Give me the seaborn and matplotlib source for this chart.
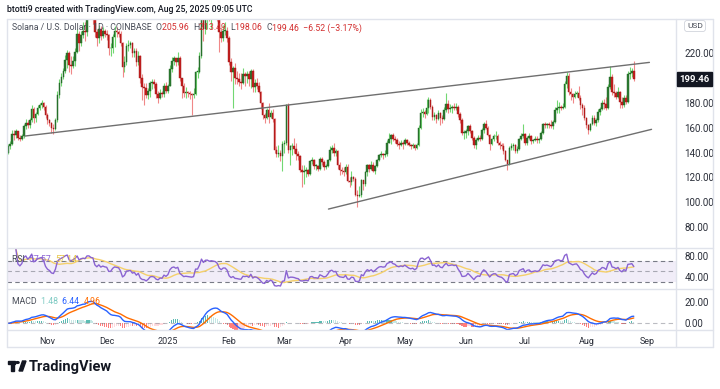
import numpy as np
import pandas as pd
import seaborn as sns
import matplotlib
matplotlib.use("Agg")
import matplotlib.pyplot as plt
import matplotlib.dates as mdates
from matplotlib.lines import Line2D
from matplotlib.patches import Rectangle, Polygon, Circle

sns.set_style("white")
plt.rcParams['font.family'] = ['Roboto', 'DejaVu Sans']

# ---- data (SOL/USD daily, Coinbase) ----
start_date = "2024-10-12"
first_open = 140.0

closes = [
    # Oct 12-31
    145, 147, 155, 154, 157, 152, 151, 153, 161, 164, 162, 166, 175, 168, 171, 176, 178, 180, 177, 170,
    # Nov
    166, 164, 160, 159, 166, 186, 196, 201, 206, 215, 220, 211, 210, 214, 221, 236, 228, 235, 238, 237,
    256, 256, 253, 252, 237, 232, 240, 234, 238, 236,
    # Dec
    235, 224, 224, 233, 238, 237, 236, 228, 209, 213, 226, 227, 228, 220, 222, 213, 218, 200, 193, 192,
    186, 190, 196, 197, 195, 187, 184, 188, 187, 194, 190,
    # Jan
    194, 207, 214, 216, 213, 216, 200, 194, 188, 189, 188, 187, 186, 187, 205, 205, 218, 249, 240, 254,
    255, 252, 255, 254, 253, 249, 237, 232, 238, 238, 232,
    # Feb
    213, 205, 208, 200, 199, 197, 196, 203, 202, 203, 199, 206, 193, 196, 194, 189, 180, 170, 168, 174,
    169, 172, 167, 142, 139, 140, 137, 147,
    # Mar
    148, 178, 142, 145, 145, 143, 139, 137, 126, 124, 125, 126, 123, 133, 134, 129, 129, 127, 135, 132,
    128, 129, 134, 142, 144, 140, 141, 130, 126, 125, 124,
    # Apr
    128, 117, 116, 120, 119, 106, 105, 106, 118, 115, 124, 130, 127, 130, 125, 129, 134, 138, 139, 138,
    139, 148, 151, 154, 151, 150, 147, 146, 148, 147,
    # May
    150, 148, 146, 145, 146, 144, 146, 160, 172, 173, 171, 176, 182, 177, 169, 170, 167, 172, 168, 167,
    174, 179, 175, 176, 177, 176, 177, 171, 166, 156, 156,
    # Jun
    157, 161, 157, 152, 146, 150, 152, 151, 158, 163, 160, 154, 147, 151, 153, 153, 148, 146, 145, 141,
    134, 131, 144, 145, 146, 141, 143, 151, 153, 155,
    # Jul
    148, 152, 153, 149, 150, 151, 150, 151, 156, 163, 162, 163, 162, 161, 165, 174, 176, 177, 176, 177,
    195, 202, 189, 187, 185, 187, 188, 184, 178, 176, 168,
    # Aug 1-25
    162, 158, 163, 168, 164, 166, 173, 175, 180, 179, 176, 193, 201, 189, 188, 185, 189, 181, 178, 184,
    181, 203, 204, 205.96, 199.46,
]

highs = [
    147, 149, 158, 158, 159, 157, 154, 155, 163, 167, 166, 168, 178, 177, 173, 178, 180, 182, 181, 178,
    172, 167, 165, 163, 168, 190, 199, 204, 208, 219, 223, 222, 218, 218, 224, 240, 238, 238, 245, 245,
    258, 264, 258, 256, 253, 240, 243, 242, 241, 240,
    239, 236, 228, 236, 242, 241, 239, 238, 229, 218, 228, 231, 230, 229, 224, 224, 222, 219, 203, 196,
    196, 192, 198, 199, 199, 197, 190, 191, 190, 196, 197,
    195, 211, 217, 218, 216, 221, 218, 200, 196, 193, 190, 190, 188, 192, 206, 209, 221, 255, 295, 270,
    262, 258, 260, 262, 257, 256, 250, 241, 243, 245, 241,
    234, 216, 210, 212, 206, 204, 204, 208, 205, 206, 206, 207, 207, 199, 200, 197, 190, 181, 172, 176,
    180, 174, 175, 168, 145, 146, 142, 149,
    150, 179, 180, 146, 148, 152, 148, 141, 138, 130, 130, 128, 127, 134, 136, 135, 131, 130, 136, 136,
    134, 131, 135, 145, 146, 148, 143, 142, 132, 128, 128,
    131, 131, 120, 125, 121, 120, 110, 113, 119, 118, 125, 131, 131, 133, 132, 130, 135, 139, 141, 140,
    142, 150, 156, 155, 156, 153, 152, 149, 150, 149,
    152, 151, 149, 147, 148, 147, 148, 162, 175, 176, 174, 183, 185, 184, 178, 173, 171, 174, 173, 170,
    177, 188, 182, 179, 178, 180, 180, 178, 173, 168, 158,
    159, 162, 163, 158, 153, 152, 154, 154, 160, 165, 166, 161, 155, 152, 155, 157, 155, 149, 148, 148,
    142, 134, 145, 148, 148, 147, 145, 152, 156, 163,
    156, 153, 156, 154, 151, 153, 153, 152, 157, 164, 165, 164, 165, 166, 166, 177, 182, 181, 178, 180,
    198, 205, 204, 192, 188, 190, 190, 194, 186, 180, 178,
    169, 163, 164, 170, 170, 168, 175, 177, 182, 183, 185, 195, 210, 203, 195, 190, 193, 190, 185, 186,
    186, 206, 209, 208, 213.49,
]

lows = [
    139, 143, 146, 150, 152, 150, 149, 150, 152, 159, 160, 160, 165, 164, 165, 170, 174, 176, 174, 168,
    163, 161, 156, 155, 158, 165, 184, 194, 199, 204, 208, 205, 203, 208, 210, 220, 222, 226, 232, 230,
    234, 250, 248, 244, 233, 226, 228, 231, 232, 233,
    231, 219, 218, 220, 225, 233, 233, 226, 201, 205, 211, 222, 224, 217, 217, 210, 211, 196, 182, 178,
    184, 183, 185, 191, 192, 184, 180, 183, 185, 185, 188,
    188, 194, 205, 211, 210, 211, 198, 184, 185, 184, 185, 183, 170, 184, 186, 200, 204, 216, 230, 236,
    240, 246, 240, 250, 248, 246, 221, 229, 230, 235, 229,
    211, 198, 176, 195, 195, 194, 191, 195, 194, 196, 194, 192, 189, 189, 191, 188, 175, 167, 164, 167,
    164, 168, 165, 140, 136, 136, 133, 125,
    140, 146, 140, 130, 138, 140, 134, 134, 124, 112, 115, 120, 121, 122, 131, 127, 126, 125, 126, 130,
    126, 127, 128, 133, 140, 137, 137, 127, 122, 123, 121,
    123, 116, 112, 114, 117, 105, 96, 104, 104, 110, 113, 121, 124, 126, 124, 123, 128, 133, 136, 135,
    136, 137, 148, 147, 149, 148, 145, 143, 145, 143,
    146, 146, 145, 143, 144, 142, 143, 145, 159, 169, 168, 170, 172, 175, 166, 166, 164, 166, 162, 164,
    166, 173, 172, 173, 172, 174, 174, 169, 164, 154, 151,
    152, 154, 156, 150, 144, 143, 149, 149, 150, 156, 159, 153, 142, 146, 149, 151, 146, 143, 143, 139,
    133, 126, 130, 142, 142, 140, 140, 142, 150, 152,
    146, 146, 151, 147, 148, 149, 148, 148, 150, 155, 160, 160, 160, 160, 159, 164, 172, 172, 174, 175,
    176, 192, 186, 182, 180, 184, 185, 182, 175, 170, 166,
    160, 155, 157, 162, 162, 161, 165, 170, 174, 175, 174, 175, 191, 186, 185, 183, 184, 176, 176, 177,
    179, 180, 199, 201, 198.06,
]

# hand-drawn channel lines (two anchor points each)
upper_line_dates = ["2024-10-20 14:00", "2025-09-01 22:00"]
upper_line_prices = [153.3, 212.7]
lower_line_dates = ["2025-03-23 08:00", "2025-09-03 00:00"]
lower_line_prices = [94.4, 158.7]

month_ticks = ["2024-11-01", "2024-12-01", "2025-01-01", "2025-02-01", "2025-03-01", "2025-04-01",
               "2025-05-01", "2025-06-01", "2025-07-01", "2025-08-01", "2025-09-01"]
month_labels = ["Nov", "Dec", "2025", "Feb", "Mar", "Apr", "May", "Jun", "Jul", "Aug", "Sep"]
price_ticks = [80, 100, 120, 140, 160, 180, 220]

# ---- indicators ----
df = pd.DataFrame({"close": closes, "high": highs, "low": lows},
                  index=pd.date_range(start_date, periods=len(closes), freq="D"))
df["open"] = [first_open] + closes[:-1]

delta = df["close"].diff()
gain = delta.clip(lower=0)
loss = -delta.clip(upper=0)
avg_gain = gain.ewm(alpha=1 / 14, adjust=True, min_periods=4).mean()
avg_loss = loss.ewm(alpha=1 / 14, adjust=True, min_periods=4).mean()
df["rsi"] = 100 - 100 / (1 + avg_gain / avg_loss)
df["rsi_ma"] = df["rsi"].rolling(14, min_periods=1).mean()
ema12 = df["close"].ewm(span=12, adjust=False).mean()
ema26 = df["close"].ewm(span=26, adjust=False).mean()
df["macd"] = ema12 - ema26
df["signal"] = df["macd"].ewm(span=9, adjust=False).mean()
df["hist"] = df["macd"] - df["signal"]

W, H = 720, 389


def box(x0, y0, x1, y1):
    return [x0 / W, 1 - y1 / H, (x1 - x0) / W, (y1 - y0) / H]


def fx(x):
    return x / W


def fy(y):
    return 1 - y / H


fig = plt.figure(figsize=(7.2, 3.89), dpi=100)
fig.patch.set_facecolor("white")

ax = fig.add_axes(box(7, 19, 676, 247))
ax_rsi = fig.add_axes(box(7, 249, 676, 288), sharex=ax)
ax_macd = fig.add_axes(box(7, 290, 676, 330), sharex=ax)

nov1 = mdates.date2num(pd.Timestamp("2024-11-01"))
xl = (nov1 + (7 - 47.5) / 1.974, nov1 + (676 - 47.5) / 1.974)

# candles
x = mdates.date2num(df.index)
o = df["open"].values
c = df["close"].values
up = c >= o
dn = ~up

ax.vlines(x[up], df["low"].values[up], df["high"].values[up], color="#72d872", lw=0.8, zorder=2)
ax.vlines(x[dn], df["low"].values[dn], df["high"].values[dn], color="#f08888", lw=0.8, zorder=2)
hgt = np.where(np.abs(c - o) < 0.6, 0.6, np.abs(c - o))
ax.bar(x[up], hgt[up], bottom=np.minimum(o, c)[up], width=0.8, color="#2d7d32",
       edgecolor="#1e5e22", linewidth=0.3, zorder=3)
ax.bar(x[dn], hgt[dn], bottom=np.minimum(o, c)[dn], width=0.8, color="#c62020",
       edgecolor="#9a1515", linewidth=0.3, zorder=3)

ax.plot(mdates.date2num(pd.to_datetime(upper_line_dates)), upper_line_prices, color="#6f6f6f", lw=1.0, zorder=4)
ax.plot(mdates.date2num(pd.to_datetime(lower_line_dates)), lower_line_prices, color="#6f6f6f", lw=1.0, zorder=4)

ax.set_ylim(63.8, 247.7)
ax.set_yticks(price_ticks)
ax.set_yticklabels([f"{v:.2f}" for v in price_ticks])

# RSI
ax_rsi.axhspan(30, 70, color="#7e57c2", alpha=0.1, lw=0)
for lvl, a in [(70, 1.0), (50, 0.6), (30, 1.0)]:
    ax_rsi.axhline(lvl, color="#787b86", lw=0.8, ls=(0, (4, 3)), alpha=a)
sns.lineplot(x=df.index, y=df["rsi_ma"], ax=ax_rsi, color="#f5d06a", lw=1.0)
sns.lineplot(x=df.index, y=df["rsi"], ax=ax_rsi, color="#8a63d2", lw=1.0)
ax_rsi.set_ylim(18.5, 92.8)
ax_rsi.set_yticks([40, 80])
ax_rsi.set_yticklabels(["40.00", "80.00"])

# MACD
ax_macd.axhline(0, color="#787b86", lw=0.8, ls=(0, (4, 3)), alpha=0.5)
hv = df["hist"].values
prev = np.r_[0, hv[:-1]]
hcol = np.where(hv >= 0, np.where(hv >= prev, "#26a69a", "#b2dfdb"),
                np.where(hv < prev, "#ff5252", "#ffcdd2"))
ax_macd.bar(x, hv, width=0.6, color=hcol, alpha=0.75, lw=0)
sns.lineplot(x=df.index, y=df["signal"], ax=ax_macd, color="#ff6d00", lw=1.0)
sns.lineplot(x=df.index, y=df["macd"], ax=ax_macd, color="#2962ff", lw=1.0)
ax_macd.set_ylim(-6.4, 31.7)
ax_macd.set_yticks([0, 20])
ax_macd.set_yticklabels(["0.00", "20.00"])

for a in (ax, ax_rsi, ax_macd):
    a.set_xlim(*xl)
    a.set_xlabel("")
    a.set_ylabel("")
    a.yaxis.tick_right()
    a.tick_params(axis="y", length=0, pad=6, labelsize=7, labelcolor="#2a2e39")
    a.tick_params(axis="x", length=0)
    for s in a.spines.values():
        s.set_visible(False)
    a.set_facecolor("none")

ax_macd.set_xticks(mdates.date2num(pd.to_datetime(month_ticks)))
ax_macd.set_xticklabels(month_labels)
ax_macd.tick_params(axis="x", labelsize=6.5, pad=5, labelcolor="#2a2e39")
plt.setp(ax.get_xticklabels(), visible=False)
plt.setp(ax_rsi.get_xticklabels(), visible=False)

# frame lines
grid_c = "#e0e3eb"
for yy in (19, 248, 289, 330, 347):
    fig.add_artist(Line2D([fx(7), fx(713)], [fy(yy), fy(yy)], color=grid_c, lw=1))
for xx in (7, 676, 713):
    fig.add_artist(Line2D([fx(xx), fx(xx)], [fy(19), fy(347)], color=grid_c, lw=1))

# texts
fig.text(fx(7), fy(10), "btotti9 created with TradingView.com, Aug 25, 2025 09:05 UTC",
         fontsize=6.3, color="#131722", va="center", fontweight="medium")

fig.canvas.draw()
renderer = fig.canvas.get_renderer()


def seq(y, items, x0=12, size=6.3):
    cur = fx(x0)
    for txt, col in items:
        tt = fig.text(cur, fy(y), txt, fontsize=size, color=col, va="center", zorder=10)
        cur += tt.get_window_extent(renderer).width / fig.bbox.width


red = "#d32f2f"
gray = "#4a4e59"
seq(28, [("Solana / U.S. Dollar · 1D · COINBASE  ", gray), ("O", gray), ("205.96  ", red),
         ("H", gray), ("213.49  ", red), ("L", gray), ("198.06  ", red), ("C", gray),
         ("199.46  −6.52 (−3.17%)", red)])
seq(260, [("RSI  ", gray), ("57.57  ", "#8a63d2"), ("57.14", "#e8c547")])
seq(301, [("MACD  ", gray), ("1.48  ", "#80cbc4"), ("6.44  ", "#2962ff"), ("4.96", "#ff6d00")])

# last price tag and USD button
fig.text(fx(694.5), fy(79), "199.46", fontsize=6.8, color="white", fontweight="bold",
         ha="center", va="center",
         bbox=dict(boxstyle="square,pad=0.3", fc="#131722", ec="#131722"))
fig.text(fx(695), fy(26), "USD", fontsize=6, color="#4a4e59", ha="center", va="center",
         bbox=dict(boxstyle="round,pad=0.3", fc="white", ec="#d1d4dc", lw=0.6))

# TradingView logo
fig.add_artist(Rectangle((fx(8), fy(364)), fx(7), fy(0) - fy(3), color="#131722", transform=fig.transFigure))
fig.add_artist(Rectangle((fx(11), fy(371)), fx(3.5), fy(0) - fy(7), color="#131722", transform=fig.transFigure))
fig.add_artist(Circle((fx(17.5), fy(362.5)), fx(1.6), color="#131722", transform=fig.transFigure))
fig.add_artist(Polygon([[fx(19), fy(371)], [fx(22.5), fy(361)], [fx(26), fy(361)], [fx(22.5), fy(371)]],
                       closed=True, color="#131722", transform=fig.transFigure))
fig.text(fx(29), fy(366.5), "TradingView", fontsize=10.5, fontweight="bold", color="#131722", va="center")

fig.savefig("out.png", dpi=100, facecolor="white")
